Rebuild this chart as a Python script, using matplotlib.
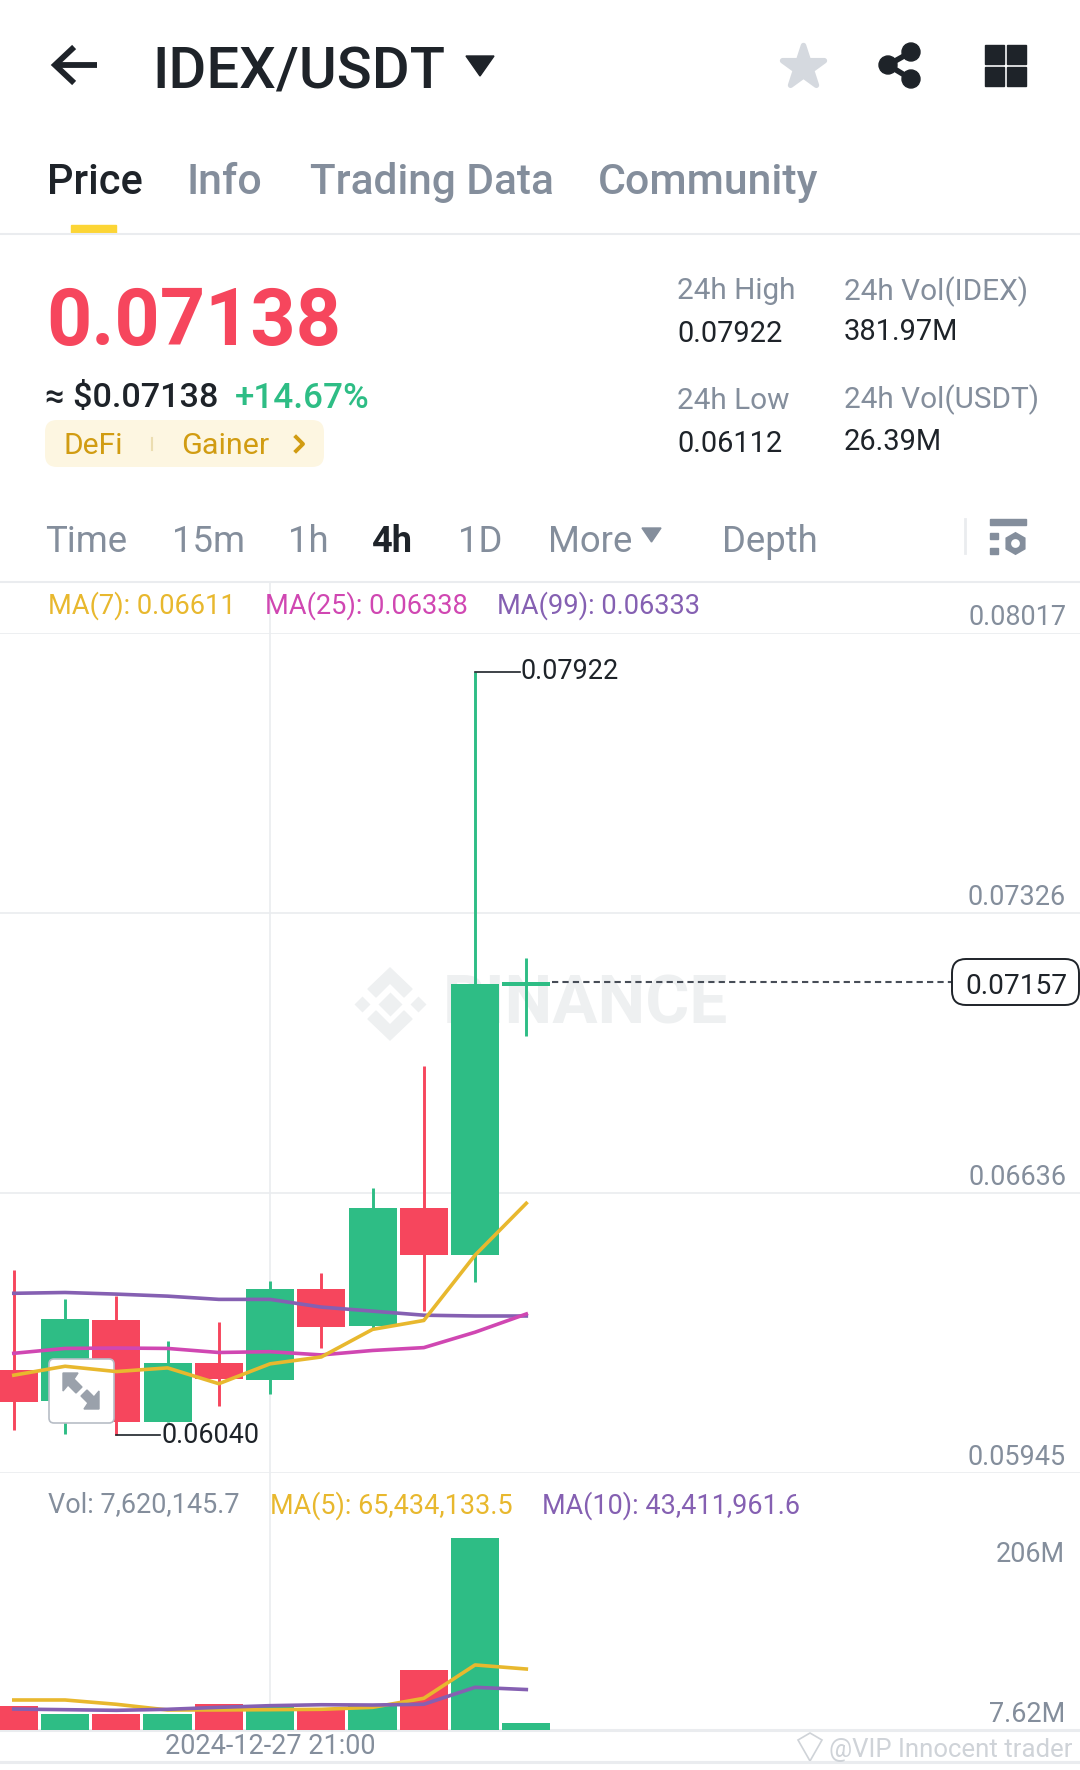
import matplotlib
matplotlib.use('Agg')
import matplotlib.pyplot as plt
from matplotlib.patches import FancyBboxPatch, Polygon, Circle, Rectangle

plt.rcParams['font.family'] = ['Roboto', 'DejaVu Sans']

# Velas de 4h
opens = [0.06201, 0.06123, 0.06322, 0.06071, 0.06217, 0.06174, 0.06399, 0.06308, 0.06599, 0.06484, 0.07147]
closes = [0.06121, 0.06326, 0.06071, 0.06216, 0.06177, 0.06399, 0.06305, 0.06599, 0.06484, 0.07151, 0.07156]
highs = [0.06447, 0.06374, 0.06382, 0.06271, 0.06317, 0.06419, 0.06438, 0.06649, 0.06950, 0.07922, 0.07216]
lows = [0.06053, 0.06042, 0.06040, 0.06071, 0.06111, 0.06140, 0.06253, 0.06303, 0.06345, 0.06416, 0.07024]

ma7 = [0.06187, 0.06209, 0.06196, 0.06205, 0.06166, 0.06215, 0.06232, 0.06300, 0.06322, 0.06483, 0.06611]
ma25 = [0.06241, 0.06253, 0.06254, 0.06253, 0.06243, 0.06245, 0.06237, 0.06248, 0.06255, 0.06293, 0.06338]
ma99 = [0.06389, 0.06391, 0.06387, 0.06382, 0.06374, 0.06374, 0.06355, 0.06345, 0.06335, 0.06333, 0.06333]

# Volumen en millones
volumes = [25.8, 17.5, 16.8, 17.5, 28.3, 24.3, 22.2, 25.8, 64.0, 206.0, 7.62]
vol_ma5 = [32.2, 32.2, 27.6, 21.5, 21.5, 21.8, 22.2, 24.3, 34.0, 69.8, 65.43]
vol_ma10 = [22.5, 21.8, 21.1, 22.2, 24.3, 26.1, 27.1, 26.8, 27.6, 45.8, 43.41]

price_ticks = [0.08017, 0.07326, 0.06636, 0.05945]
price_labels = ['0.08017', '0.07326', '0.06636', '0.05945']
last_price = 0.07157
date_labels = ['2024-12-27 21:00']
date_index = [5]

GREEN = '#2EBD85'
RED = '#F6465D'
YELLOW = '#E8B82E'
MAGENTA = '#D047B2'
PURPLE = '#8560B2'
GREY = '#848E9C'
DARK = '#1E2329'
LINE = '#EAECEF'
MARK = '#EEF0F1'

W, H = 1080, 1770
STEP = 51.25
X0 = 13.8

fig = plt.figure(figsize=(10.8, 17.7), dpi=100, facecolor='white')


def pixel_axes(top, bottom, zorder):
    a = fig.add_axes([0, 1 - bottom / H, 1, (bottom - top) / H], zorder=zorder)
    a.patch.set_visible(False)
    for s in a.spines.values():
        s.set_visible(False)
    a.set_xlim(-X0 / STEP, (W - X0) / STEP)
    return a


# Capa de fondo en pixeles: textos de la interfaz y marca de agua
bg = fig.add_axes([0, 0, 1, 1], zorder=0)
bg.set_xlim(0, W)
bg.set_ylim(H, 0)
bg.axis('off')


def label(x, y, s, size, color=GREY, weight='normal', ha='left', ax=bg):
    return ax.text(x, y, s, fontsize=size * 0.72, color=color, fontweight=weight,
                   ha=ha, va='center_baseline')


# Cabecera
bg.plot([58, 97], [65, 65], color=DARK, lw=4.2, solid_capstyle='butt')
bg.plot([72, 55, 72], [49, 65, 81], color=DARK, lw=4.2, solid_joinstyle='miter')
label(152, 67, 'IDEX/USDT', 58, DARK, 'medium')
bg.add_patch(Polygon([(466, 56), (494, 56), (480, 76)], color=DARK))
bg.scatter([803], [67], marker='*', s=1000, color='#D5D9DF', edgecolors='#D5D9DF', linewidths=4)
bg.plot([911, 888, 911], [52, 65, 79], color=DARK, lw=4)
for cx, cy in [(911, 52), (888, 65), (911, 79)]:
    bg.add_patch(Circle((cx, cy), 9, color=DARK))
for rx, ry in [(985, 45), (1007, 45), (985, 67), (1007, 67)]:
    bg.add_patch(Rectangle((rx, ry), 18.5, 18.5, color=DARK))

label(47, 178, 'Price', 41.5, DARK, 'medium')
label(187, 178, 'Info', 43, GREY, 'medium')
label(310, 178, 'Trading Data', 42.4, GREY, 'medium')
label(598, 178, 'Community', 42.8, GREY, 'medium')
bg.add_patch(Rectangle((71, 225), 45, 8, color='#FCD535'))
bg.plot([0, W], [234, 234], color=LINE, lw=1.5)

# Precio
label(46, 316, '0.07138', 79, RED, 'bold')
label(45, 395, '≈ $0.07138', 34.3, DARK, 'medium')
label(235, 395, '+14.67%', 35, GREEN, 'medium')
bg.add_patch(FancyBboxPatch((45, 420), 279, 47, boxstyle='round,pad=0,rounding_size=12',
                            color='#FDF6E1', lw=0))
label(63, 443, 'DeFi', 30, '#D19C12')
bg.plot([152, 152], [438, 450], color='#EBDDB0', lw=1.5)
label(181, 443, 'Gainer', 30.5, '#D19C12')
bg.plot([296, 303, 296], [437, 444, 451], color='#D19C12', lw=2.8)

for y1, y2, dy1, dy2, t1, v1, t2, v2 in [(288, 331, 0, -2, '24h High', '0.07922', '24h Vol(IDEX)', '381.97M'),
                                         (398, 441, -2, -2, '24h Low', '0.06112', '24h Vol(USDT)', '26.39M')]:
    label(677, y1, t1, 29.8)
    label(677, y2, v1, 29, DARK)
    label(844, y1 + dy1, t2, 29.8)
    label(844, y2 + dy2, v2, 29, DARK)

# Intervalos
for x, s in [(45, 'Time'), (172, '15m'), (288, '1h'), (458, '1D'), (548, 'More'), (722, 'Depth')]:
    label(x, 538, s, 36.5)
label(372, 538, '4h', 36, DARK, 'bold')
bg.add_patch(Polygon([(642, 528), (661, 528), (651.5, 542)], color=GREY))
bg.plot([965, 965], [519, 553], color=LINE, lw=2)
bg.add_patch(Rectangle((990, 519), 36, 6, color=GREY))
bg.add_patch(Rectangle((990, 533), 8, 6, color=GREY))
bg.add_patch(Rectangle((990, 548), 8, 6, color=GREY))
bg.scatter([1015], [543], marker='h', s=280, color=GREY, linewidths=0)
bg.scatter([1015], [543], marker='o', s=40, color='white', linewidths=0)
bg.plot([0, W], [582, 582], color=LINE, lw=1.5)

label(48, 602, 'MA(7): 0.06611', 27.2, YELLOW)
label(265, 602, 'MA(25): 0.06338', 27.2, MAGENTA)
label(497, 602, 'MA(99): 0.06333', 27.2, PURPLE)

# Linea vertical de la fecha y marca de agua
bg.plot([270, 270], [582, 1730], color=LINE, lw=1.2)
bg.text(443, 1006, 'BINANCE', fontsize=48.5, color=MARK, fontweight='bold', va='center')
bg.scatter([390], [1004], marker='D', s=149, color=MARK, linewidths=0)
bg.scatter([362, 418], [1004, 1004], marker='D', s=66, color=MARK, linewidths=0)
bg.add_patch(Polygon([(390, 968), (412, 989), (404, 997), (390, 983), (376, 997), (368, 989)], color=MARK))
bg.add_patch(Polygon([(390, 1040), (412, 1019), (404, 1011), (390, 1025), (376, 1011), (368, 1019)], color=MARK))

# Grafico de velas
ax = pixel_axes(633.3, 1473.3, 2)
ax.set_ylim(price_ticks[-1], price_ticks[0])
ax.set_xticks([])
ax.set_yticks(price_ticks)
ax.set_yticklabels([])
ax.tick_params(length=0)
ax.grid(axis='y', color=LINE, lw=1.2)
ax.set_axisbelow(True)

for i in range(len(opens)):
    color = GREEN if closes[i] >= opens[i] else RED
    ax.vlines(i, lows[i], highs[i], color=color, lw=2.1, zorder=3)
    ax.bar(i, abs(closes[i] - opens[i]), bottom=min(opens[i], closes[i]), width=0.935,
           color=color, zorder=3)

xs = list(range(len(opens)))
ax.plot(xs, ma99, color=PURPLE, lw=2.6, zorder=6)
ax.plot(xs, ma25, color=MAGENTA, lw=2.6, zorder=6)
ax.plot(xs, ma7, color=YELLOW, lw=2.6, zorder=7)

for p, s in zip(price_ticks, price_labels):
    ax.annotate(s, xy=(1, p), xycoords=ax.get_yaxis_transform(), xytext=(-14, 2),
                textcoords='offset pixels', ha='right', va='bottom',
                fontsize=27 * 0.72, color=GREY, annotation_clip=False)

# Maximo y minimo
imax = highs.index(max(highs))
imin = lows.index(min(lows))
ax.plot([imax, imax + 0.87], [highs[imax], highs[imax]], color=DARK, lw=1.2, zorder=4)
ax.plot([imin, imin + 0.86], [lows[imin], lows[imin]], color=DARK, lw=1.2, zorder=4)
ax.annotate('0.07922', xy=(imax + 0.87, highs[imax]), xytext=(1, 3), textcoords='offset pixels',
            va='center_baseline', fontsize=27 * 0.72, color=DARK)
ax.annotate('0.06040', xy=(imin + 0.86, lows[imin]), xytext=(1, 2), textcoords='offset pixels',
            va='center_baseline', fontsize=27 * 0.72, color=DARK)

# Precio actual
ax.plot([10.5, 18.3], [last_price, last_price], color='#474D57', lw=1.5, ls=(0, (3, 2)), zorder=4)
box = FancyBboxPatch((952, 959), 127, 46, boxstyle='round,pad=0,rounding_size=14', fc='white',
                     ec=DARK, lw=1.4, transform=bg.transData, zorder=8)
ax.add_patch(box)
box.set_clip_on(False)
t = ax.text(1016, 983, '0.07157', transform=bg.transData, fontsize=28 * 0.72, color=DARK,
            ha='center', va='center_baseline', zorder=9)

# Boton de expandir, queda por debajo de las medias
btn = FancyBboxPatch((49, 1359), 65, 64, boxstyle='round,pad=0,rounding_size=5', fc='white',
                     ec='#B7BDC6', lw=1.2, transform=bg.transData, zorder=5)
ax.add_patch(btn)
for pts in [[(63, 1373), (78, 1373), (74, 1379), (82, 1387), (76, 1393), (68, 1385), (63, 1391)],
            [(99, 1409), (84, 1409), (88, 1403), (81, 1396), (87, 1390), (94, 1397), (99, 1391)]]:
    ax.add_patch(Polygon(pts, color='#9AA1AB', transform=bg.transData, zorder=5))

# Volumen
vol = pixel_axes(1538, 1730, 2)
vol.set_ylim(0, 206)
vol.set_yticks([])
for i, v in enumerate(volumes):
    color = GREEN if closes[i] >= opens[i] else RED
    vol.bar(i, v, width=0.94, color=color, zorder=3)
vol.plot(xs, vol_ma5, color=YELLOW, lw=2.6, zorder=4)
vol.plot(xs, vol_ma10, color=PURPLE, lw=2.6, zorder=5)
vol.set_xticks(date_index)
vol.set_xticklabels(date_labels, fontsize=27 * 0.72, color=GREY)
vol.tick_params(axis='x', length=0, pad=2)

label(48, 1502, 'Vol: 7,620,145.7', 27)
label(270, 1502, 'MA(5): 65,434,133.5', 27, YELLOW)
label(542, 1502, 'MA(10): 43,411,961.6', 27, PURPLE)
label(1065, 1552, '206M', 27, GREY, ha='right')
label(1065, 1711, '7.62M', 27, GREY, ha='right')
bg.plot([0, W], [1730, 1730], color=LINE, lw=2.2)
bg.plot([0, W], [1762, 1762], color=LINE, lw=2.2)

# Marca de agua inferior
label(829, 1747, '@VIP Innocent trader', 25.8, '#CFD3D8')
bg.add_patch(Polygon([(798, 1740), (810, 1733), (822, 1740), (810, 1761)], fc='none', ec='#CFD3D8', lw=1.2))

fig.savefig('out.png', dpi=100, facecolor='white')
